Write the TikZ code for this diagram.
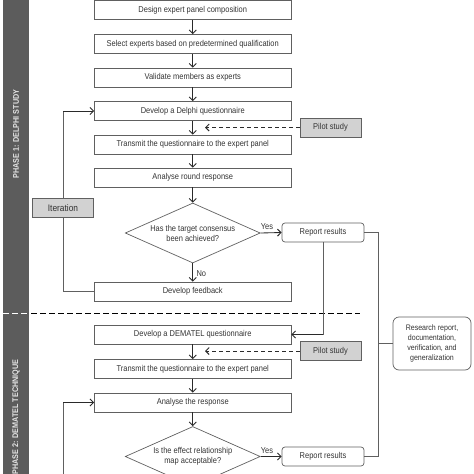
\documentclass[tikz,border=0pt]{standalone}
\usepackage{fontspec}
\setmainfont{Liberation Sans}[FakeStretch=0.88]
\usetikzlibrary{arrows.meta,shapes.geometric}
\definecolor{bargray}{HTML}{5C5C5C}
\definecolor{boxline}{HTML}{606060}
\definecolor{arrowc}{HTML}{2A2A2A}
\definecolor{txtc}{HTML}{333333}
\definecolor{fillgray}{HTML}{D2D2D2}
\definecolor{bartext}{HTML}{E6E6E6}
\begin{document}
\begin{tikzpicture}[x=1pt,y=-1pt,
  every node/.style={font=\fontsize{8.5}{10}\selectfont, text=txtc},
  box/.style={draw=boxline, line width=0.7pt, minimum width=196.5pt, minimum height=19pt, inner sep=0pt},
  rbox/.style={draw=boxline, line width=0.7pt, rounded corners=3pt, minimum width=82pt, minimum height=19pt, inner sep=0pt},
  gbox/.style={draw=boxline, line width=0.7pt, fill=fillgray, minimum width=61pt, minimum height=19pt, inner sep=0pt},
  dia/.style={draw=boxline, line width=0.7pt, shape=diamond, aspect=2.25, minimum width=135pt, minimum height=60pt, inner sep=0pt, align=center},
  arr/.style={draw=arrowc, line width=0.85pt, -{Straight Barb[length=3.5pt,width=7pt,line width=0.95pt]}},
  conn/.style={draw=boxline, line width=0.7pt},
  pil/.style={draw=arrowc, line width=0.85pt, dash pattern=on 4pt off 3pt, -{Straight Barb[length=3.5pt,width=7pt,line width=0.95pt]}},
  phase/.style={rotate=90, text=bartext, font=\fontsize{8.2}{9}\selectfont\bfseries}
]
\path[use as bounding box, clip] (0,0) rectangle (474,474);
% left bar
\fill[bargray] (3,-5) rectangle (29,480);
\node[phase] (ph1) at (16,134) {PHASE 1: DELPHI STUDY};
\node[phase] (ph2) at (16,417) {PHASE 2: DEMATEL TECHNIQUE};
% separator
\draw[white, line width=1.6pt, dash pattern=on 5.5pt off 3.5pt] (3,313.5) -- (29,313.5);
\draw[black, line width=1.6pt, dash pattern=on 5.5pt off 3.5pt] (31,313.5) -- (360,313.5);

% phase 1 boxes
\node[box] (b1) at (192.75,10) {Design expert panel composition};
\node[box] (b2) at (192.75,44) {Select experts based on predetermined qualification};
\node[box] (b3) at (192.75,77.5) {Validate members as experts};
\node[box] (b4) at (192.75,111) {Develop a Delphi questionnaire};
\node[box] (b5) at (192.75,144.5) {Transmit the questionnaire to the expert panel};
\node[box] (b6) at (192.75,177.5) {Analyse round response};
\node[dia] (d1) at (192.75,233) {Has the target consensus\\been achieved?};
\node[box] (b7) at (192.75,291.5) {Develop feedback};
\node[gbox] (p1) at (330.5,127.5) {Pilot study};
\node[rbox] (r1) at (323,232.5) {Report results};
\coordinate (p1e) at (205,127.5);

\draw[arr] (b1) -- (b2);
\draw[arr] (b2) -- (b3);
\draw[arr] (b3) -- (b4);
\draw[arr] (b4) -- (b5);
\draw[arr] (b5) -- (b6);
\draw[arr] (b6) -- (d1);
\draw[arr] (d1) -- node[right, xshift=0pt, yshift=-1pt] (no1) {No} (b7);
\draw[arr] (d1.east) -- node[above, pos=0.3, yshift=-0.5pt] (yes1) {Yes} (r1.west);
\draw[pil] (p1.west) -- (p1e);
% loop
\coordinate (l1a) at (63,291.5);
\coordinate (l1b) at (63,111);
\draw[conn] (b7.west) -- (l1a) -- (l1b);
\draw[arr] (l1b) -- (b4.west);
\node[gbox, font=\fontsize{9.5}{10}\selectfont] (it) at (63,208) {Iteration};

% phase 2
\node[box] (c1) at (192.75,334.5) {Develop a DEMATEL questionnaire};
\node[box] (c2) at (192.75,369) {Transmit the questionnaire to the expert panel};
\node[box] (c3) at (192.75,402.5) {Analyse the response};
\node[dia] (d2) at (192.75,456.5) {Is the effect relationship\\map acceptable?};
\node[gbox] (p2) at (330.5,351) {Pilot study};
\node[rbox] (r2) at (323,456.5) {Report results};
\coordinate (p2e) at (205,351);
\draw[arr] (c1) -- (c2);
\draw[arr] (c2) -- (c3);
\draw[arr] (c3) -- (d2);
\draw[arr] (d2.east) -- node[above, pos=0.3, yshift=-0.5pt] (yes2) {Yes} (r2.west);
\draw[pil] (p2.west) -- (p2e);
\coordinate (l2a) at (63,480);
\coordinate (l2b) at (63,402.5);
\draw[conn] (l2a) -- (l2b);
\draw[arr] (l2b) -- (c3.west);

% report -> dematel
\coordinate (rc) at (323,334.5);
\draw[conn] (r1.south) -- (rc);
\draw[arr] (rc) -- (c1.east);

% research report
\node[draw=boxline, line width=0.7pt, rounded corners=6pt, minimum width=78pt, minimum height=53pt, inner sep=0pt, align=center, font=\fontsize{8}{10.2}\selectfont] (rr) at (432,343.5) {Research report,\\documentation,\\verification, and\\generalization};
\coordinate (ra) at (378,232.5);
\coordinate (rb) at (378,456.5);
\coordinate (rm) at (378,343.5);
\draw[conn] (r1.east) -- (ra) -- (rb) -- (r2.east);
\draw[conn] (rm) -- (rr.west);
\end{tikzpicture}
\end{document}
